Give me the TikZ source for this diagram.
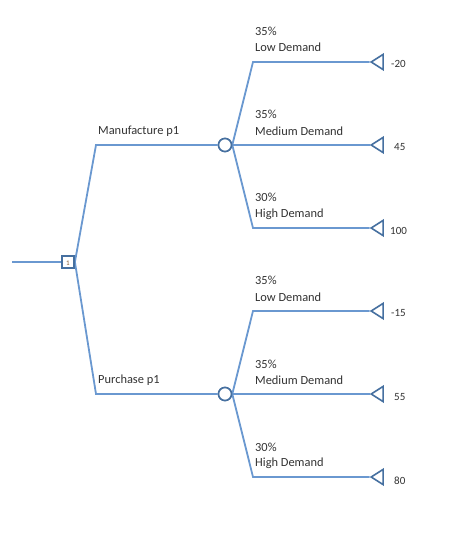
\documentclass[tikz,border=0pt]{standalone}
\usepackage{fontspec}
\usetikzlibrary{shapes.geometric}
\setmainfont{Carlito}
\definecolor{branch}{RGB}{106,152,208}
\definecolor{nodeline}{RGB}{70,112,160}
\definecolor{txt}{RGB}{50,50,50}
\begin{document}
\begin{tikzpicture}[x=1pt,y=-1pt,
  br/.style={draw=branch,line width=1.8pt},
  dec/.style={draw=nodeline,line width=1.8pt,fill=white,minimum size=12pt,inner sep=0pt},
  chance/.style={circle,draw=nodeline,line width=1.6pt,fill=white,minimum size=13pt,inner sep=0pt},
  term/.style={isosceles triangle,shape border rotate=180,isosceles triangle apex angle=65,draw=nodeline,line width=1.6pt,fill=white,minimum height=12pt,inner sep=0pt},
  lbl/.style={text=txt,font=\fontsize{12.4}{14}\selectfont,anchor=west,inner sep=0pt},
  val/.style={text=txt,font=\fontsize{11}{13}\selectfont,anchor=west,inner sep=0pt}]
\useasboundingbox (0,0) rectangle (452,536);
% start
\coordinate (s) at (12,262);
\node[dec] (d) at (68,262) {};
\coordinate (ku) at (96,145);
\coordinate (kl) at (96,394);
\node[chance] (c1) at (225,145) {};
\node[chance] (c2) at (225,394) {};
\coordinate (a1) at (253,62);
\coordinate (a2) at (253,145);
\coordinate (a3) at (253,228);
\coordinate (b1) at (253,311);
\coordinate (b2) at (253,394);
\coordinate (b3) at (253,477);
\node[term] (t1) at (379,62) {};
\node[term] (t2) at (379,145) {};
\node[term] (t3) at (379,228) {};
\node[term] (t4) at (379,311) {};
\node[term] (t5) at (379,394) {};
\node[term] (t6) at (379,477) {};
% branches
\draw[br] (s) -- (d.west);
\draw[br] (d.east) -- (ku) -- (c1.west);
\draw[br] (d.east) -- (kl) -- (c2.west);
\draw[br] (c1.east) -- (a1) -- (t1.apex);
\draw[br] (c1.east) -- (a2) -- (t2.apex);
\draw[br] (c1.east) -- (a3) -- (t3.apex);
\draw[br] (c2.east) -- (b1) -- (t4.apex);
\draw[br] (c2.east) -- (b2) -- (t5.apex);
\draw[br] (c2.east) -- (b3) -- (t6.apex);
% redraw nodes on top
\node[dec] at (d) {};
\node[text=brown!70!black,font=\fontsize{7}{7}\selectfont,inner sep=0pt] (dn) at (68,263) {1};
\node[chance] at (c1) {};
\node[chance] at (c2) {};
% labels
\node[lbl] (m) at (98,131) {Manufacture p1};
\node[lbl] (p) at (98,380) {Purchase p1};
\node[lbl] (l1a) at (255,31) {35\%};
\node[lbl] (l1b) at (255,47) {Low Demand};
\node[lbl] (l2a) at (255,114) {35\%};
\node[lbl] (l2b) at (255,131) {Medium Demand};
\node[lbl] (l3a) at (255,197) {30\%};
\node[lbl] (l3b) at (255,214) {High Demand};
\node[lbl] (l4a) at (255,280) {35\%};
\node[lbl] (l4b) at (255,297) {Low Demand};
\node[lbl] (l5a) at (255,364) {35\%};
\node[lbl] (l5b) at (255,380) {Medium Demand};
\node[lbl] (l6a) at (255,447) {30\%};
\node[lbl] (l6b) at (255,463) {High Demand};
% values
\node[val] (v1) at (391,64) {-20};
\node[val] (v2) at (394,147) {45};
\node[val] (v3) at (390,231) {100};
\node[val] (v4) at (391,313) {-15};
\node[val] (v5) at (394,397) {55};
\node[val] (v6) at (394,481) {80};
\end{tikzpicture}
\end{document}
